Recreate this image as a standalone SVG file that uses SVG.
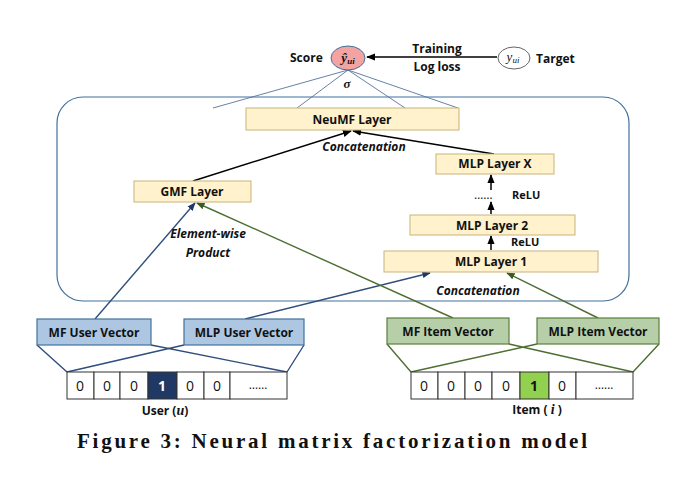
<svg xmlns="http://www.w3.org/2000/svg" width="691" height="479" viewBox="0 0 691 479">
<style>
text{font-family:"Open Sans","Liberation Sans",sans-serif;font-weight:bold;font-size:12px;fill:#111}
.y{fill:#fff2cc;stroke:#c9b37a;stroke-width:1}
.b{fill:#adc7e3;stroke:#41719c;stroke-width:1.2}
.g{fill:#b7cfa9;stroke:#5c7f3d;stroke-width:1.2}
.c{fill:#fff;stroke:#333;stroke-width:1}
.k{stroke:#000;stroke-width:1.5;fill:none}
.tb{stroke:#2f4e7d;stroke-width:1.4;fill:none}
.tg{stroke:#4e6e32;stroke-width:1.4;fill:none}
.thin{stroke:#56739b;stroke-width:0.9;fill:none}
.i{font-style:italic}
</style>
<defs>
<marker id="a" viewBox="0 0 10 10" refX="9" refY="5" markerWidth="6" markerHeight="6" orient="auto-start-reverse"><path d="M0,1L10,5L0,9z" fill="#000"/></marker>
<marker id="ab" viewBox="0 0 10 10" refX="9" refY="5" markerWidth="6" markerHeight="6" orient="auto"><path d="M0,1L10,5L0,9z" fill="#1f3864"/></marker>
<marker id="ag" viewBox="0 0 10 10" refX="9" refY="5" markerWidth="6" markerHeight="6" orient="auto"><path d="M0,1L10,5L0,9z" fill="#3d5a25"/></marker>
</defs>
<rect x="57" y="97" width="572" height="204" rx="26" fill="none" stroke="#41719c" stroke-width="1.2"/>
<g id="connectors">
<line class="thin" x1="348" y1="70" x2="213" y2="108"/>
<line class="thin" x1="348" y1="70" x2="297" y2="108"/>
<line class="thin" x1="348" y1="70" x2="405" y2="108"/>
<line class="thin" x1="348" y1="70" x2="458" y2="108"/>
<line class="k" x1="497" y1="57" x2="367" y2="57" marker-end="url(#a)"/>
<line class="k" x1="193" y1="181" x2="351" y2="131" marker-end="url(#a)"/>
<line class="k" x1="494" y1="154" x2="353" y2="131" marker-end="url(#a)"/>
<line class="k" x1="491" y1="190" x2="491" y2="175" marker-end="url(#a)"/>
<line class="k" x1="491" y1="214" x2="491" y2="202" marker-end="url(#a)"/>
<line class="k" x1="491" y1="250" x2="491" y2="236" marker-end="url(#a)"/>
<line class="tb" x1="95" y1="319" x2="195" y2="203" marker-end="url(#ab)"/>
<line class="tb" x1="245" y1="319" x2="430" y2="273" marker-end="url(#ab)"/>
<line class="tg" x1="453" y1="318" x2="197" y2="203" marker-end="url(#ag)"/>
<line class="tg" x1="598" y1="318" x2="507" y2="273" marker-end="url(#ag)"/>
<path class="tb" d="M37,345L67,372M151,345L287,372M184,345L67,372M304,345L287,372"/>
<path class="tg" d="M387,344L411,372M509,344L633,372M537,344L411,372M659,344L633,372"/>
</g>
<g id="score"><text x="290" y="62">Score</text><ellipse cx="348" cy="58" rx="17" ry="12" fill="#f4a3a3" stroke="#41719c"/><text x="348" y="62" text-anchor="middle" class="i" style="font-family:'Liberation Serif',serif;font-size:13px">ŷ<tspan font-size="9" dy="2">ui</tspan></text><text x="347" y="88" text-anchor="middle" class="i" style="font-family:'Liberation Serif',serif;font-size:13px">σ</text></g>
<g id="target"><ellipse cx="514" cy="58" rx="16" ry="11" fill="#fff" stroke="#666"/><text x="513" y="61" text-anchor="middle" class="i" style="font-family:'Liberation Serif',serif;font-size:13px;font-weight:normal">y<tspan font-size="9" dy="2">ui</tspan></text><text x="536" y="63">Target</text></g>
<g id="loss"><text x="437" y="53" text-anchor="middle">Training</text><text x="437" y="71" text-anchor="middle">Log loss</text></g>
<g id="neumf"><rect class="y" x="246" y="108" width="213" height="22"/><text x="352" y="124" text-anchor="middle">NeuMF Layer</text></g>
<text x="364" y="151" text-anchor="middle" class="i">Concatenation</text>
<g id="gmf"><rect class="y" x="134" y="181" width="117" height="21"/><text x="192" y="196" text-anchor="middle">GMF Layer</text></g>
<g id="mlpx"><rect class="y" x="436" y="154" width="118" height="20"/><text x="495" y="168" text-anchor="middle">MLP Layer X</text></g>
<text x="474" y="199" style="font-weight:normal">……</text><text x="512" y="199" style="font-size:11px">ReLU</text>
<g id="mlp2"><rect class="y" x="410" y="215" width="165" height="20"/><text x="492" y="230" text-anchor="middle">MLP Layer 2</text></g>
<text x="511" y="246" style="font-size:11px">ReLU</text>
<g id="mlp1"><rect class="y" x="384" y="251" width="214" height="21"/><text x="491" y="266" text-anchor="middle">MLP Layer 1</text></g>
<text x="208" y="238" text-anchor="middle" class="i">Element-wise</text><text x="208" y="257" text-anchor="middle" class="i">Product</text>
<text x="478" y="295" text-anchor="middle" class="i">Concatenation</text>
<g id="mfu"><rect class="b" x="37" y="319" width="114" height="26"/><text x="94" y="337" text-anchor="middle">MF User Vector</text></g>
<g id="mlpu"><rect class="b" x="184" y="319" width="120" height="26"/><text x="244" y="337" text-anchor="middle">MLP User Vector</text></g>
<g id="mfi"><rect class="g" x="387" y="318" width="122" height="26"/><text x="448" y="336" text-anchor="middle">MF Item Vector</text></g>
<g id="mlpi"><rect class="g" x="537" y="318" width="122" height="26"/><text x="598" y="336" text-anchor="middle">MLP Item Vector</text></g>
<g id="user" text-anchor="middle">
<rect class="c" x="67" y="372" width="27" height="27"/><rect class="c" x="94" y="372" width="26" height="27"/><rect class="c" x="120" y="372" width="28" height="27"/><rect x="148" y="372" width="29" height="27" fill="#1f3864" stroke="#333"/><rect class="c" x="177" y="372" width="27" height="27"/><rect class="c" x="204" y="372" width="26" height="27"/><rect class="c" x="230" y="372" width="57" height="27"/>
<text x="80" y="391" style="font-size:14px;font-weight:normal">0</text><text x="107" y="391" style="font-size:14px;font-weight:normal">0</text><text x="134" y="391" style="font-size:14px;font-weight:normal">0</text><text x="162" y="391" style="font-size:14px;fill:#fff">1</text><text x="190" y="391" style="font-size:14px;font-weight:normal">0</text><text x="217" y="391" style="font-size:14px;font-weight:normal">0</text><text x="258" y="389" style="font-weight:normal">……</text>
<text x="165" y="415">User (<tspan class="i" style="font-family:'Liberation Serif',serif;font-size:14px">u</tspan>)</text>
</g>
<g id="item" text-anchor="middle">
<rect class="c" x="411" y="372" width="27" height="27"/><rect class="c" x="438" y="372" width="27" height="27"/><rect class="c" x="465" y="372" width="27" height="27"/><rect class="c" x="492" y="372" width="28" height="27"/><rect x="520" y="372" width="29" height="27" fill="#92d050" stroke="#333"/><rect class="c" x="549" y="372" width="27" height="27"/><rect class="c" x="576" y="372" width="57" height="27"/>
<text x="424" y="391" style="font-size:14px;font-weight:normal">0</text><text x="451" y="391" style="font-size:14px;font-weight:normal">0</text><text x="478" y="391" style="font-size:14px;font-weight:normal">0</text><text x="506" y="391" style="font-size:14px;font-weight:normal">0</text><text x="534" y="391" style="font-size:14px">1</text><text x="562" y="391" style="font-size:14px;font-weight:normal">0</text><text x="604" y="389" style="font-weight:normal">……</text>
<text x="537" y="414">Item ( <tspan class="i" style="font-family:'Liberation Serif',serif;font-size:14px">i</tspan> )</text>
</g>
<text x="77" y="448" textLength="510" lengthAdjust="spacing" style="font-family:'Liberation Serif',serif;font-size:21px;font-weight:bold">Figure 3:  Neural matrix factorization model</text>
</svg>
